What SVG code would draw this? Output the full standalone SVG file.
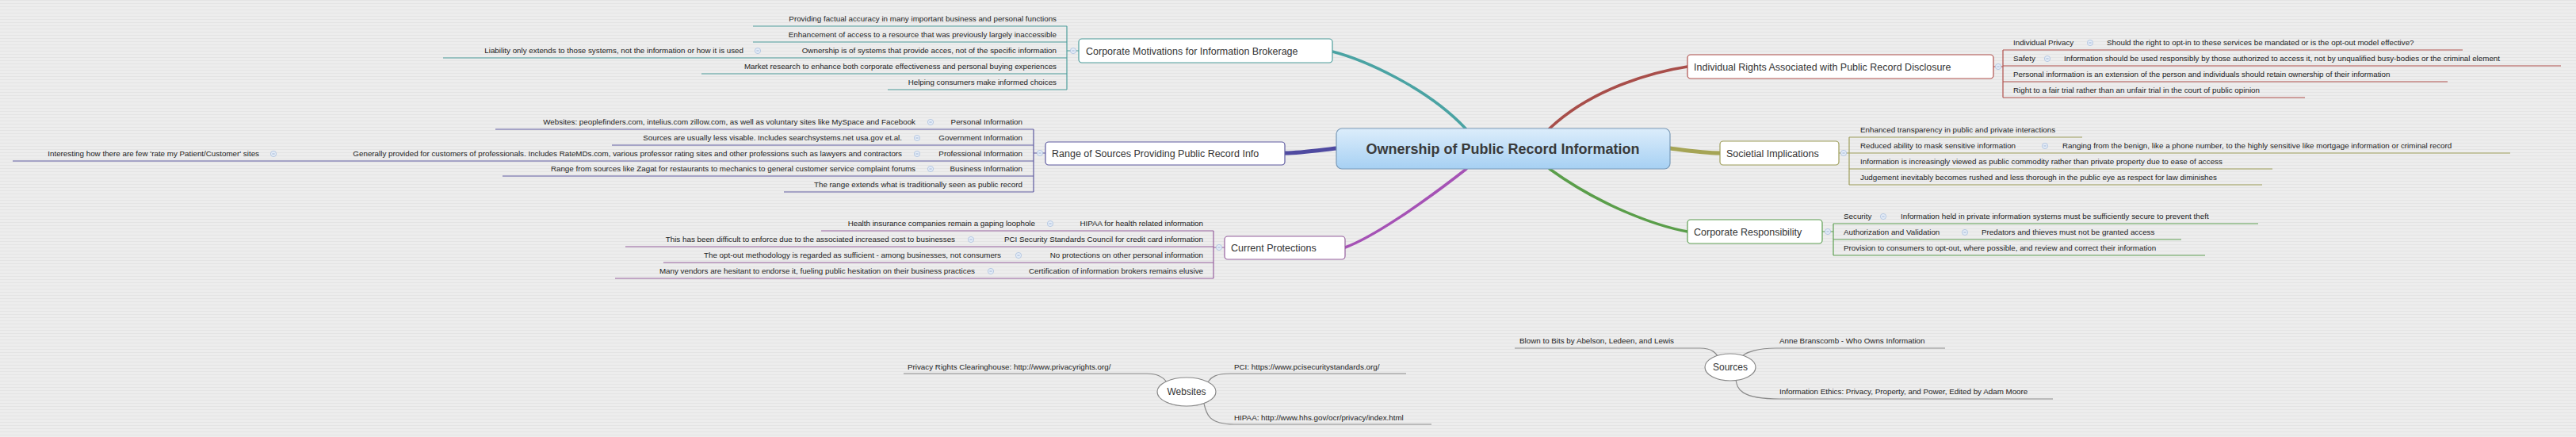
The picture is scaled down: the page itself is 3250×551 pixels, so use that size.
<svg xmlns="http://www.w3.org/2000/svg" width="3250" height="551" viewBox="0 0 3250 551">
<defs>
<pattern id="bg" width="6" height="4" patternUnits="userSpaceOnUse"><rect width="6" height="4" fill="#ededed"/><rect width="6" height="1" fill="#e4e4e4"/></pattern>
<linearGradient id="cg" x1="0" y1="0" x2="0" y2="1"><stop offset="0" stop-color="#dcedfb"/><stop offset="1" stop-color="#a6d0f3"/></linearGradient>
<g id="m"><circle r="3.6" fill="#e4ecf7" stroke="#a9bfdd" stroke-width="0.8"/><line x1="-1.6" x2="1.6" stroke="#8fa8cc" stroke-width="0.8"/></g>
</defs>
<style>
text{font-family:"Liberation Sans",Arial,sans-serif;fill:#222}
.l{font-size:9.8px}
.e{text-anchor:end}
.n{font-size:12.5px;fill:#333}
.c{font-size:18px;font-weight:bold;fill:#3a3a3a;text-anchor:middle}
.box{fill:#fff;stroke-width:1.2}
.ul{fill:none;stroke-width:1.2}
.teal{stroke:#4e9e9c}.blu{stroke:#5e5aa0}.pur{stroke:#96609e}.red{stroke:#b0504c}.olv{stroke:#9e9e5a}.grn{stroke:#5ea052}.gry{stroke:#8a8a8a}
</style>
<rect width="3250" height="551" fill="url(#bg)"/>
<g id="connectors" fill="none" stroke-linecap="round">
<path d="M1849,162 C1800,110 1720,75 1681,65" stroke="#4aa3a3" stroke-width="3.5"/>
<path d="M1955,162 C2010,110 2090,90 2129,84" stroke="#a84e4a" stroke-width="3.5"/>
<path d="M1686,187 C1660,190 1640,193 1621,193" stroke="#4f4aa0" stroke-width="5"/>
<path d="M2107,187 C2130,190 2150,193 2170,193" stroke="#a5a455" stroke-width="5"/>
<path d="M1850,213 C1790,260 1730,300 1697,312" stroke="#a552b5" stroke-width="3.5"/>
<path d="M1955,213 C2020,260 2090,285 2129,292" stroke="#5a9e4a" stroke-width="3.5"/>
</g>
<g id="center"><rect x="1686" y="162" width="421" height="51" rx="7" fill="url(#cg)" stroke="#7a9ab8" stroke-width="1.2"/><text class="c" x="1896" y="194">Ownership of Public Record Information</text></g>

<g id="corp-motivations">
<rect class="box teal" x="1361" y="49" width="320" height="30" rx="4"/><text class="n" x="1370" y="69">Corporate Motivations for Information Brokerage</text>
<path class="ul teal" d="M1346,33 V113 M1346,64 H1361 M950,33 H1346 M950,53 H1346 M559,73 H1346 M885,93 H1346 M1120,113 H1346"/>
<use href="#m" x="1354" y="64"/>
<text class="l e" x="1333" y="27">Providing factual accuracy in many important business and personal functions</text>
<text class="l e" x="1333" y="47">Enhancement of access to a resource  that was previously largely inaccessible</text>
<text class="l e" x="1333" y="67">Ownership is of systems that provide acces, not of the specific information</text>
<use href="#m" x="956" y="64"/>
<text class="l e" x="938" y="67">Liability only extends to those systems, not the information or how it is used</text>
<text class="l e" x="1333" y="87">Market research to enhance both corporate effectiveness and personal buying experiences</text>
<text class="l e" x="1333" y="107">Helping consumers make informed choices</text>
</g>

<g id="range">
<rect class="box blu" x="1319" y="179" width="302" height="29" rx="4"/><text class="n" x="1327" y="198">Range of Sources Providing Public Record Info</text>
<path class="ul blu" d="M1304,163 V242 M1304,193 H1319 M625,163 H1304 M772,183 H1304 M16,203 H1304 M634,222 H1304 M989,242 H1304"/>
<use href="#m" x="1312" y="193"/>
<text class="l e" x="1290" y="157">Personal Information</text><use href="#m" x="1174" y="154"/>
<text class="l e" x="1155" y="157">Websites: peoplefinders.com, intelius.com zillow.com, as well as voluntary sites like MySpace and Facebook</text>
<text class="l e" x="1290" y="177">Government Information</text><use href="#m" x="1157" y="174"/>
<text class="l e" x="1138" y="177">Sources are usually less visable.  Includes searchsystems.net usa.gov et.al.</text>
<text class="l e" x="1290" y="197">Professional Information</text><use href="#m" x="1157" y="194"/>
<text class="l e" x="1138" y="197">Generally provided for customers of professionals.  Includes RateMDs.com, various professor rating sites  and other professions such as lawyers and contractors</text>
<use href="#m" x="345" y="194"/>
<text class="l e" x="327" y="197">Interesting how there are few 'rate my Patient/Customer' sites</text>
<text class="l e" x="1290" y="216">Business Information</text><use href="#m" x="1174" y="213"/>
<text class="l e" x="1155" y="216">Range from sources like Zagat for restaurants to mechanics to general customer service complaint forums</text>
<text class="l e" x="1290" y="236">The range extends what is traditionally seen as public record</text>
</g>

<g id="protections">
<rect class="box pur" x="1545" y="298" width="152" height="29" rx="4"/><text class="n" x="1553" y="317">Current Protections</text>
<path class="ul pur" d="M1531,291 V351 M1531,312 H1545 M1036,291 H1531 M789,311 H1531 M837,331 H1531 M776,351 H1531"/>
<use href="#m" x="1538" y="312"/>
<text class="l e" x="1518" y="285">HIPAA for health related information</text><use href="#m" x="1325" y="282"/>
<text class="l e" x="1306" y="285">Health insurance companies remain a gaping loophole</text>
<text class="l e" x="1518" y="305">PCI Security Standards Council for credit card information</text><use href="#m" x="1225" y="302"/>
<text class="l e" x="1205" y="305">This has been difficult to enforce due to the associated increased cost to businesses</text>
<text class="l e" x="1518" y="325">No protections on other personal information</text><use href="#m" x="1285" y="322"/>
<text class="l e" x="1263" y="325">The opt-out methodology is regarded as sufficient - among businesses, not consumers</text>
<text class="l e" x="1518" y="345">Certification of information brokers remains elusive</text><use href="#m" x="1250" y="342"/>
<text class="l e" x="1230" y="345">Many vendors are hesitant to endorse it, fueling public hesitation on their business practices</text>
</g>

<g id="individual-rights">
<rect class="box red" x="2129" y="69" width="386" height="30" rx="4"/><text class="n" x="2137" y="89">Individual Rights Associated with Public Record Disclosure</text>
<path class="ul red" d="M2527,63 V123 M2515,84 H2527 M2527,63 H3107 M2527,83 H3231 M2527,103 H3088 M2527,123 H2908"/>
<use href="#m" x="2521" y="84"/>
<text class="l" x="2540" y="57">Individual Privacy</text><use href="#m" x="2637" y="54"/>
<text class="l" x="2658" y="57">Should the right to opt-in to these services be mandated or is the opt-out model effective?</text>
<text class="l" x="2540" y="77">Safety</text><use href="#m" x="2583" y="74"/>
<text class="l" x="2604" y="77">Information should be used responsibly by those authorized to access it, not by unqualified busy-bodies or the criminal element</text>
<text class="l" x="2540" y="97">Personal information is an extension of the person and individuals should retain ownership of their information</text>
<text class="l" x="2540" y="117">Right to a fair trial rather than an unfair trial in the court of public opinion</text>
</g>

<g id="societal">
<rect class="box olv" x="2170" y="178" width="150" height="30" rx="4"/><text class="n" x="2178" y="198">Societial Implications</text>
<path class="ul olv" d="M2333,173 V233 M2320,193 H2333 M2333,173 H2627 M2333,193 H3167 M2333,213 H2867 M2333,233 H2854"/>
<use href="#m" x="2326" y="193"/>
<text class="l" x="2347" y="167">Enhanced transparency in public and private interactions</text>
<text class="l" x="2347" y="187">Reduced ability to mask sensitive information</text><use href="#m" x="2580" y="184"/>
<text class="l" x="2602" y="187">Ranging from the benign, like a phone number, to the highly sensitive like mortgage information or criminal record</text>
<text class="l" x="2347" y="207">Information is increasingly viewed as public commodity rather than private property due to ease of access</text>
<text class="l" x="2347" y="227">Judgement inevitably becomes rushed and less thorough in the public eye as respect for law diminishes</text>
</g>

<g id="corp-responsibility">
<rect class="box grn" x="2129" y="277" width="170" height="30" rx="4"/><text class="n" x="2137" y="297">Corporate Responsibility</text>
<path class="ul grn" d="M2313,282 V322 M2299,292 H2313 M2313,282 H2849 M2313,302 H2752 M2313,322 H2782"/>
<use href="#m" x="2306" y="292"/>
<text class="l" x="2326" y="276">Security</text><use href="#m" x="2376" y="273"/>
<text class="l" x="2398" y="276">Information held in private information systems must be sufficiently secure to prevent theft</text>
<text class="l" x="2326" y="296">Authorization and Validation</text><use href="#m" x="2479" y="293"/>
<text class="l" x="2500" y="296">Predators and thieves must not be granted access</text>
<text class="l" x="2326" y="316">Provision to consumers to opt-out, where possible, and review and correct their information</text>
</g>

<g id="sources">
<path class="ul gry" d="M1911,439 H2145 C2160,439 2165,445 2169,452 M2240,439 H2454 M2240,439 C2222,439 2200,443 2196,452 M2245,503 H2590 M2245,503 C2195,503 2192,490 2190,479"/>
<ellipse cx="2183" cy="463" rx="32" ry="17" fill="#fff" stroke="#888" stroke-width="1.2"/>
<text class="n" x="2183" y="467" text-anchor="middle" style="font-size:12px">Sources</text>
<text class="l" x="1917" y="433">Blown to Bits by Abelson, Ledeen, and Lewis</text>
<text class="l" x="2245" y="433">Anne Branscomb - Who Owns Information</text>
<text class="l" x="2245" y="497">Information Ethics: Privacy, Property, and Power, Edited by Adam Moore</text>
</g>

<g id="websites">
<path class="ul gry" d="M1140,471 H1447 C1462,471 1468,476 1472,482 M1552,471 H1774 M1552,471 C1535,471 1528,475 1524,482 M1557,535 H1806 M1557,535 C1525,535 1522,522 1519,509"/>
<ellipse cx="1497" cy="494" rx="37" ry="18" fill="#fff" stroke="#888" stroke-width="1.2"/>
<text class="n" x="1497" y="498" text-anchor="middle" style="font-size:12px">Websites</text>
<text class="l" x="1145" y="466">Privacy Rights Clearinghouse: http://www.privacyrights.org/</text>
<text class="l" x="1557" y="466">PCI: https://www.pcisecuritystandards.org/</text>
<text class="l" x="1557" y="530">HIPAA: http://www.hhs.gov/ocr/privacy/index.html</text>
</g>
</svg>
